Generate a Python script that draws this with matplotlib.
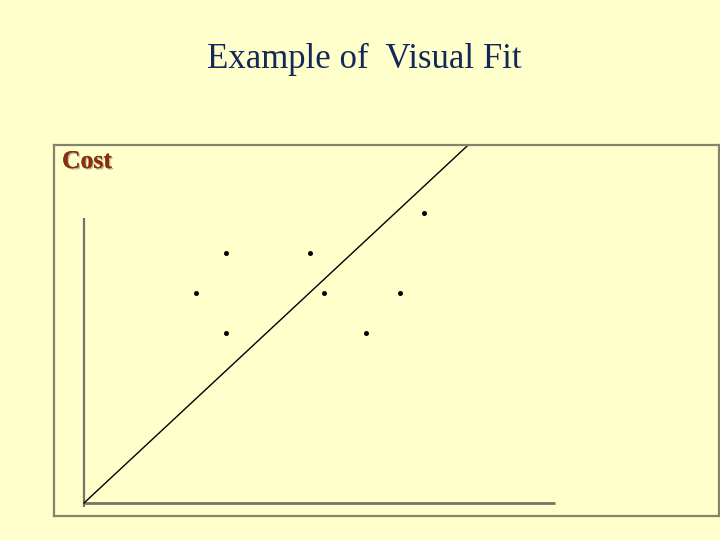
import matplotlib
matplotlib.use("Agg")
import matplotlib.pyplot as plt
import matplotlib.patheffects as pe

# Data (units: arbitrary, origin at the axes corner)
x_points = [8.5, 3.55, 5.65, 2.8, 6.0, 7.9, 3.55, 7.05]
y_points = [7.25, 6.25, 6.25, 5.25, 5.25, 5.25, 4.25, 4.25]
fit_x = [0.0, 11.0]
fit_y = [0.0, 10.25]
x_axis_len = 11.78
y_axis_len = 7.12

title = "Example of  Visual Fit"
ylabel = "Cost"

bg = "#FFFFCC"
fig = plt.figure(figsize=(7.2, 5.4), dpi=100, facecolor=bg)

W, H = 720, 540
left, right, top, bottom = 53.5, 719, 144.5, 515.5
ax = fig.add_axes([left / W, 1 - bottom / H, (right - left) / W, (bottom - top) / H])
ax.set_facecolor(bg)
unit = 40.0
ox, oy = 84.0, 503.0
ax.set_xlim((left - ox) / unit, (right - ox) / unit)
ax.set_ylim((oy - bottom) / unit, (oy - top) / unit)
ax.set_xticks([])
ax.set_yticks([])
for s in ax.spines.values():
    s.set_color("#84846e")
    s.set_linewidth(1.6)

# axis lines
ax.plot([0, x_axis_len], [0, 0], color="#74746a", lw=2.0, solid_capstyle="butt")
ax.plot([0, 0], [-0.1, y_axis_len], color="#74746a", lw=1.6, solid_capstyle="butt")

# fit line
ax.plot(fit_x, fit_y, color="black", lw=1.0)

# points
ax.plot(x_points, y_points, linestyle="none", marker="o", markersize=3.6,
        color="black", markeredgewidth=0)

fig.text(62 / W, 1 - 168 / H, ylabel, fontsize=18.5, fontweight="bold",
         family="Liberation Serif", color="#8B2E0A", va="baseline", ha="left",
         path_effects=[pe.withSimplePatchShadow(offset=(1, -1), shadow_rgbFace="#888888", alpha=0.6), pe.Normal()])

fig.text(364 / W, 1 - 68 / H, title, fontsize=25, family="Liberation Serif",
         color="#15285A", va="baseline", ha="center")

fig.savefig("out.png", dpi=100, facecolor=bg)
